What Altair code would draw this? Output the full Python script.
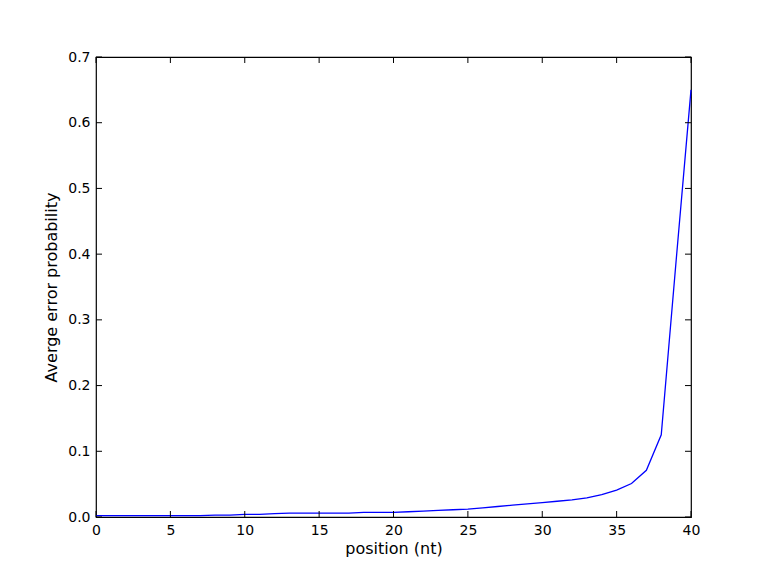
import altair as alt
import pandas as pd

positions = list(range(0, 41))
error_prob = [0.002, 0.002, 0.002, 0.002, 0.002, 0.002, 0.002, 0.002, 0.003, 0.003,
              0.004, 0.004, 0.005, 0.006, 0.006, 0.006, 0.006, 0.006, 0.007, 0.007,
              0.007, 0.008, 0.009, 0.010, 0.011, 0.012, 0.014, 0.016, 0.018, 0.020,
              0.022, 0.024, 0.026, 0.029, 0.034, 0.041, 0.051, 0.071, 0.125, 0.39,
              0.65]
x_ticks = [0, 5, 10, 15, 20, 25, 30, 35, 40]
y_ticks = [0.0, 0.1, 0.2, 0.3, 0.4, 0.5, 0.6, 0.7]

W, H = 595, 460
TL = 6
FONT = "DejaVu Sans"

df = pd.DataFrame({"pos": positions, "err": error_prob})
xt = pd.DataFrame({"t": x_ticks})
yt = pd.DataFrame({"t": y_ticks})

xscale = alt.Scale(domain=[0, 40], nice=False, zero=False)
yscale = alt.Scale(domain=[0, 0.7], nice=False)

line = alt.Chart(df).mark_line(color="#0000ff", strokeWidth=1.3).encode(
    x=alt.X("pos:Q", scale=xscale,
            axis=alt.Axis(title="position (nt)", values=x_ticks, tickSize=0,
                          labelPadding=6, grid=False, domain=False, labelFlush=False,
                          labelFont=FONT, labelFontSize=14, labelColor="black",
                          titleFont=FONT, titleFontSize=16, titleFontWeight="normal",
                          titleColor="black", titlePadding=3, format="d")),
    y=alt.Y("err:Q", scale=yscale,
            axis=alt.Axis(title="Averge error probability", values=y_ticks, tickSize=0,
                          labelPadding=6, grid=False, domain=False, labelFlush=False,
                          labelFont=FONT, labelFontSize=14, labelColor="black",
                          titleFont=FONT, titleFontSize=16, titleFontWeight="normal",
                          titleColor="black", titlePadding=8, format=".1f")),
)

def xrule(y1, y2):
    return alt.Chart(xt).mark_rule(color="black", strokeWidth=1).encode(
        x=alt.X("t:Q", scale=xscale), y=alt.value(y1), y2=alt.value(y2))

def yrule(x1, x2):
    return alt.Chart(yt).mark_rule(color="black", strokeWidth=1).encode(
        y=alt.Y("t:Q", scale=yscale), x=alt.value(x1), x2=alt.value(x2))

chart = alt.layer(
    line,
    xrule(H, H - TL), xrule(0, TL),
    yrule(0, TL), yrule(W, W - TL),
).properties(
    width=W, height=H,
    autosize=alt.AutoSizeParams(type="none"),
    padding={"left": 88, "top": 49, "right": 69, "bottom": 51},
).configure(
    background="white"
).configure_view(
    stroke="black", strokeWidth=1.2, fill="white"
)

chart.save("out.html", embed_options={"renderer": "svg", "actions": False})
